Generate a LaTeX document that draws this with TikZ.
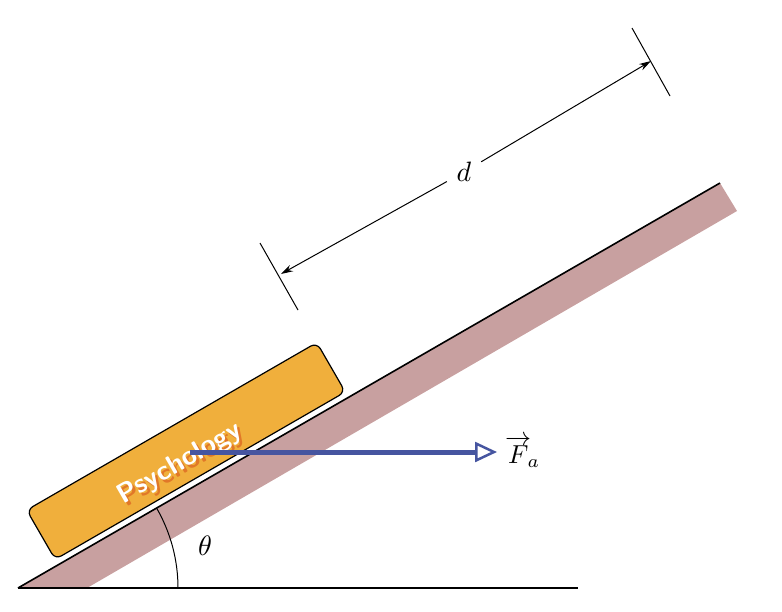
\documentclass[tikz,border=0pt]{standalone}
\usetikzlibrary{arrows.meta}
\usepackage{amsmath}
\definecolor{pinkband}{RGB}{200,160,160}
\definecolor{bookfill}{RGB}{240,175,60}
\definecolor{forceblue}{RGB}{70,85,160}
\definecolor{shadowor}{RGB}{225,120,40}
\begin{document}
\begin{tikzpicture}[x=1pt,y=-1pt,
  dimline/.style={line width=1pt,-{Stealth[length=12pt,width=7pt]}},
  tickline/.style={line width=1pt},
  booktext/.style={transform shape,rotate=30,scale=1.9,font=\sffamily\bfseries\Large}]
\useasboundingbox (0,0) rectangle (782,611);
% incline band
\coordinate (O) at (18,588);
\coordinate (T) at (720,183);
\fill[pinkband] (O) -- (T) -- (737,211) -- (87,588) -- cycle;
\draw[line width=1.6pt] (O) -- (T);
\coordinate (H) at (578,588);
\draw[line width=1.6pt] (O) -- (H);
% angle arc
\draw[line width=1pt] (178,588) arc[start angle=0,end angle=-30,radius=160];
\node[transform shape,scale=2.8] (th) at (205,546) {$\theta$};
% book
\node[draw,line width=1.2pt,rounded corners=7pt,fill=bookfill,rotate=30,
  minimum width=335,minimum height=57,inner sep=0pt] (book) at (186,451) {};
\node[booktext,text=shadowor] at (183,467) {Psychology};
\node[booktext,text=white] (bt) at (180,464) {Psychology};
% force
\coordinate (Fs) at (190,452);
\coordinate (Fe) at (497,452);
\draw[forceblue,line width=5pt,-{Triangle[open,length=22pt,width=20pt,line width=2.5pt]}] (Fs) -- (Fe);
\node[transform shape,scale=2.6,anchor=west] (F) at (496,452) {$\overrightarrow{F}_{\!a}$};
% dimension d
\coordinate (a1) at (260,243); \coordinate (a2) at (298,310);
\coordinate (b1) at (632,28); \coordinate (b2) at (670,96);
\draw[tickline] (a1) -- (a2);
\draw[tickline] (b1) -- (b2);
\coordinate (p) at (281,274); \coordinate (q) at (651,61);
\node[transform shape,scale=2.8] (d) at (464,172) {$d$};
\draw[dimline] (d) -- (p);
\draw[dimline] (d) -- (q);
\end{tikzpicture}
\end{document}
